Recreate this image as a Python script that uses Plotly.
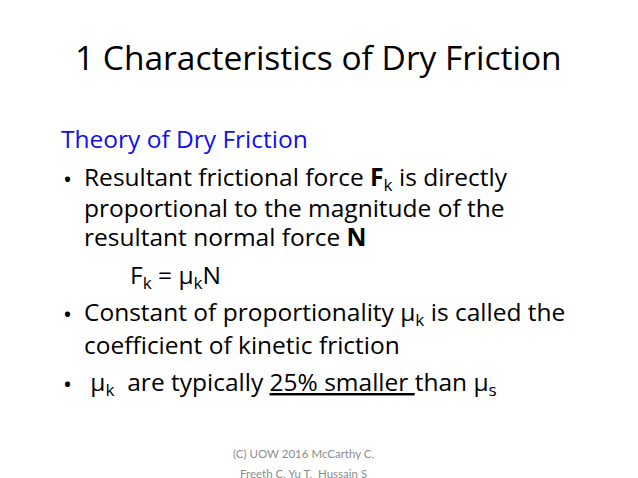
import plotly.graph_objects as go

# slide text, one entry per rendered line
title = "1 Characteristics of Dry Friction"
subtitle = "Theory of Dry Friction"
body_lines = [
    "Resultant frictional force <b>F</b><sub>k</sub> is directly",
    "proportional to the magnitude of the",
    "resultant normal force <b>N</b>",
    "F<sub>k</sub> = μ<sub>k</sub>N",
    "Constant of proportionality μ<sub>k</sub> is called the",
    "coefficient of kinetic friction",
    " μ<sub>k</sub>  are typically <u>25% smaller </u>than μ<sub>s</sub>",
]
body_bullet = [True, False, False, False, True, False, True]
body_indent = [0, 0, 0, 46, 0, 0, 0]
body_y = [178, 207, 236, 276, 313, 344, 383]
footer_lines = ["(C) UOW 2016 McCarthy C,", "Freeth C, Yu T,  Hussain S"]

FONT = "'Open Sans', sans-serif"

fig = go.Figure()

ann = []
ann.append(dict(x=318, y=57, text=title, xanchor="center", yanchor="middle",
                font=dict(size=33.5, color="#000000", family=FONT)))
ann.append(dict(x=59, y=138, text=subtitle, xanchor="left", yanchor="middle",
                font=dict(size=24.5, color="#1010ee", family=FONT)))

for txt, bul, ind, y in zip(body_lines, body_bullet, body_indent, body_y):
    if bul:
        ann.append(dict(x=61, y=y, text="•", xanchor="left", yanchor="middle",
                        font=dict(size=24, color="#000000", family=FONT)))
    ann.append(dict(x=82 + ind, y=y, text=txt, xanchor="left", yanchor="middle",
                    font=dict(size=24.5, color="#000000", family=FONT)))

for i, txt in enumerate(footer_lines):
    ann.append(dict(x=303, y=453 + i * 20, text=txt, xanchor="center", yanchor="middle",
                    font=dict(size=11.5, color="#8c8c8c", family="Lato, sans-serif")))

for a in ann:
    a.update(xref="x", yref="y", showarrow=False)

fig.update_layout(
    width=638, height=478,
    margin=dict(l=0, r=0, t=0, b=0),
    paper_bgcolor="white", plot_bgcolor="white",
    xaxis=dict(range=[0, 638], visible=False, fixedrange=True),
    yaxis=dict(range=[478, 0], visible=False, fixedrange=True),
    annotations=ann,
    showlegend=False,
)

# drop the browser's default 8px body margin so the slide sits at the corner
fig.write_html("out.html", config={"displayModeBar": False},
               post_script="document.body.style.margin='0';")
